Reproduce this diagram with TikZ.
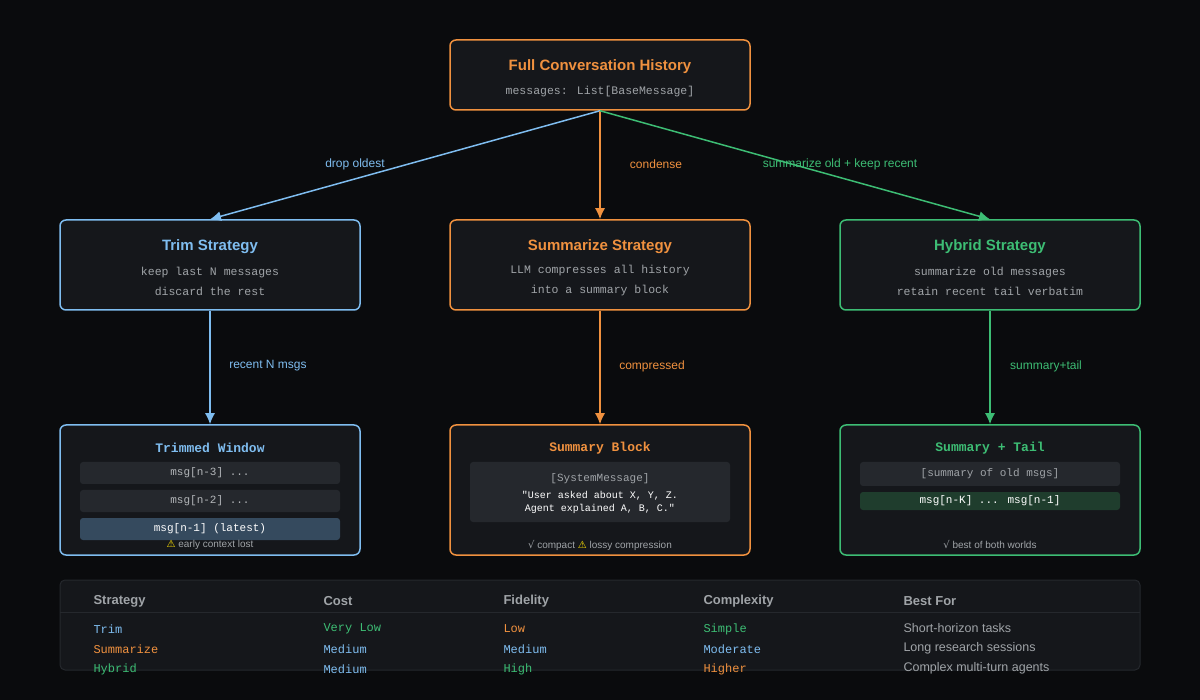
\documentclass[tikz,border=0pt]{standalone}
\usepackage{fontspec}
\setmainfont{Liberation Sans}
\newfontfamily\monof{Liberation Mono}
\newfontfamily\symf{DejaVu Sans}
\usetikzlibrary{arrows.meta}
\definecolor{bg}{HTML}{0A0B0D}
\definecolor{boxf}{HTML}{15171B}
\definecolor{orn}{HTML}{F0913F}
\definecolor{blu}{HTML}{7FBDF0}
\definecolor{grn}{HTML}{3DBD74}
\definecolor{gry}{HTML}{A0A4A8}
\definecolor{rowf}{HTML}{25282D}
\definecolor{selb}{HTML}{354A5E}
\definecolor{selg}{HTML}{1F3D2D}
\newcommand{\warn}{{\symf\textcolor{yellow!85!orange}{⚠}}}
\begin{document}
\begin{tikzpicture}[x=1pt,y=-1pt,
  box/.style={draw=#1,line width=1.5pt,rounded corners=6pt,fill=boxf,minimum width=300pt,inner sep=0pt},
  ttl/.style={font=\bfseries\fontsize{15}{18}\selectfont,text=#1},
  mono/.style={font=\monof\fontsize{11.5}{20}\selectfont,text=gry,align=center},
  lbl/.style={font=\fontsize{12}{14}\selectfont,text=#1},
  arr/.style={draw=#1,line width=1.5pt,-{Latex[length=11pt,width=10pt]}},
  row/.style={fill=#1,rounded corners=3pt,minimum width=260pt,inner sep=0pt,font=\monof\fontsize{11}{13}\selectfont},
  th/.style={anchor=west,font=\bfseries\fontsize{13}{15}\selectfont,text=gry},
  td/.style={anchor=west,font=\monof\fontsize{12}{14}\selectfont,text=#1},
  tn/.style={anchor=west,font=\fontsize{12.5}{14}\selectfont,text=gry}]
\fill[bg] (0,0) rectangle (1200,700);
% top
\node[box=orn,minimum height=70pt] (full) at (600,75) {};
\node[ttl=orn] (fullt) at (600,67) {Full Conversation History};
\node[mono] (fulls) at (600,92) {messages: List[BaseMessage]};
% strategies
\node[box=blu,minimum height=90pt] (trim) at (210,265) {};
\node[ttl=blu] (trimt) at (210,247) {Trim Strategy};
\node[mono] (trims) at (210,281) {keep last N messages\\discard the rest};
\node[box=orn,minimum height=90pt] (summ) at (600,265) {};
\node[ttl=orn] (summt) at (600,247) {Summarize Strategy};
\node[mono] (summs) at (600,281) {LLM compresses all history\\into a summary block};
\node[box=grn,minimum height=90pt] (hyb) at (990,265) {};
\node[ttl=grn] (hybt) at (990,247) {Hybrid Strategy};
\node[mono] (hybs) at (990,281) {summarize old messages\\retain recent tail verbatim};
% arrows top
\draw[arr=blu] (full.south) -- (trim.north);
\draw[arr=orn] (full.south) -- (summ.north);
\draw[arr=grn] (full.south) -- (hyb.north);
\node[lbl=blu] (l1) at (355,164) {drop oldest};
\node[lbl=orn] (l2) at (656,164) {condense};
\node[lbl=grn] (l3) at (840,164) {summarize old + keep recent};
% bottom boxes
\node[box=blu,minimum height=130pt] (tw) at (210,490) {};
\node[box=orn,minimum height=130pt] (sb) at (600,490) {};
\node[box=grn,minimum height=130pt] (st) at (990,490) {};
\draw[arr=blu] (trim.south) -- (tw.north);
\draw[arr=orn] (summ.south) -- (sb.north);
\draw[arr=grn] (hyb.south) -- (st.north);
\node[lbl=blu] (l4) at (268,366) {recent N msgs};
\node[lbl=orn] (l5) at (652,366) {compressed};
\node[lbl=grn] (l6) at (1046,366) {summary+tail};
% trimmed window
\node[font=\monof\bfseries\fontsize{13}{15}\selectfont,text=blu] (twt) at (210,448) {Trimmed Window};
\node[row=rowf,minimum height=22pt,text=gry!80] (r1) at (210,473) {msg[n-3] ...};
\node[row=rowf,minimum height=22pt,text=gry!80] (r2) at (210,501) {msg[n-2] ...};
\node[row=selb,minimum height=22pt,text=white] (r3) at (210,529) {msg[n-1] (latest)};
\node[font=\fontsize{10}{12}\selectfont,text=gry] (twn) at (210,545) {\warn\ early context lost};
% summary block
\node[font=\monof\bfseries\fontsize{13}{15}\selectfont,text=orn] (sbt) at (600,448) {Summary Block};
\node[row=rowf,minimum height=60pt] (sbr) at (600,492) {};
\node[font=\monof\fontsize{11}{13}\selectfont,text=gry] (sbr1) at (600,479) {[SystemMessage]};
\node[font=\monof\fontsize{10}{13}\selectfont,text=white,align=center] (sbr2) at (600,502) {"User asked about X, Y, Z.\\Agent explained A, B, C."};
\node[font=\fontsize{10}{12}\selectfont,text=gry] (sbn) at (600,545) {{\symf √} compact \warn\ lossy compression};
% summary + tail
\node[font=\monof\bfseries\fontsize{13}{15}\selectfont,text=grn] (stt) at (990,448) {Summary + Tail};
\node[row=rowf,minimum height=24pt,text=gry] (s1) at (990,474) {[summary of old msgs]};
\node[row=selg,minimum height=18pt,text=white] (s2) at (990,501) {msg[n-K] ... msg[n-1]};
\node[font=\fontsize{10}{12}\selectfont,text=gry] (stn) at (990,545) {{\symf √} best of both worlds};
% table
\node[draw=rowf,line width=1pt,fill=boxf,rounded corners=5pt,minimum width=1080pt,minimum height=90pt] (tab) at (600,625) {};
\draw[rowf,line width=1pt] (60,612) -- (1140,612);
\node[th] (h1) at (90,601) {Strategy};
\node[th] (h2) at (320,601) {Cost};
\node[th] (h3) at (500,601) {Fidelity};
\node[th] (h4) at (700,601) {Complexity};
\node[th] (h5) at (900,601) {Best For};
\node[td=blu] (a1) at (90,629) {Trim};
\node[td=grn] (a2) at (320,629) {Very Low};
\node[td=orn] (a3) at (500,629) {Low};
\node[td=grn] (a4) at (700,629) {Simple};
\node[tn] (a5) at (900,628) {Short-horizon tasks};
\node[td=orn] (b1) at (90,649) {Summarize};
\node[td=blu] (b2) at (320,649) {Medium};
\node[td=blu] (b3) at (500,649) {Medium};
\node[td=blu] (b4) at (700,649) {Moderate};
\node[tn] (b5) at (900,648) {Long research sessions};
\node[td=grn] (c1) at (90,669) {Hybrid};
\node[td=blu] (c2) at (320,669) {Medium};
\node[td=grn] (c3) at (500,669) {High};
\node[td=orn] (c4) at (700,669) {Higher};
\node[tn] (c5) at (900,668) {Complex multi-turn agents};
\end{tikzpicture}
\end{document}
